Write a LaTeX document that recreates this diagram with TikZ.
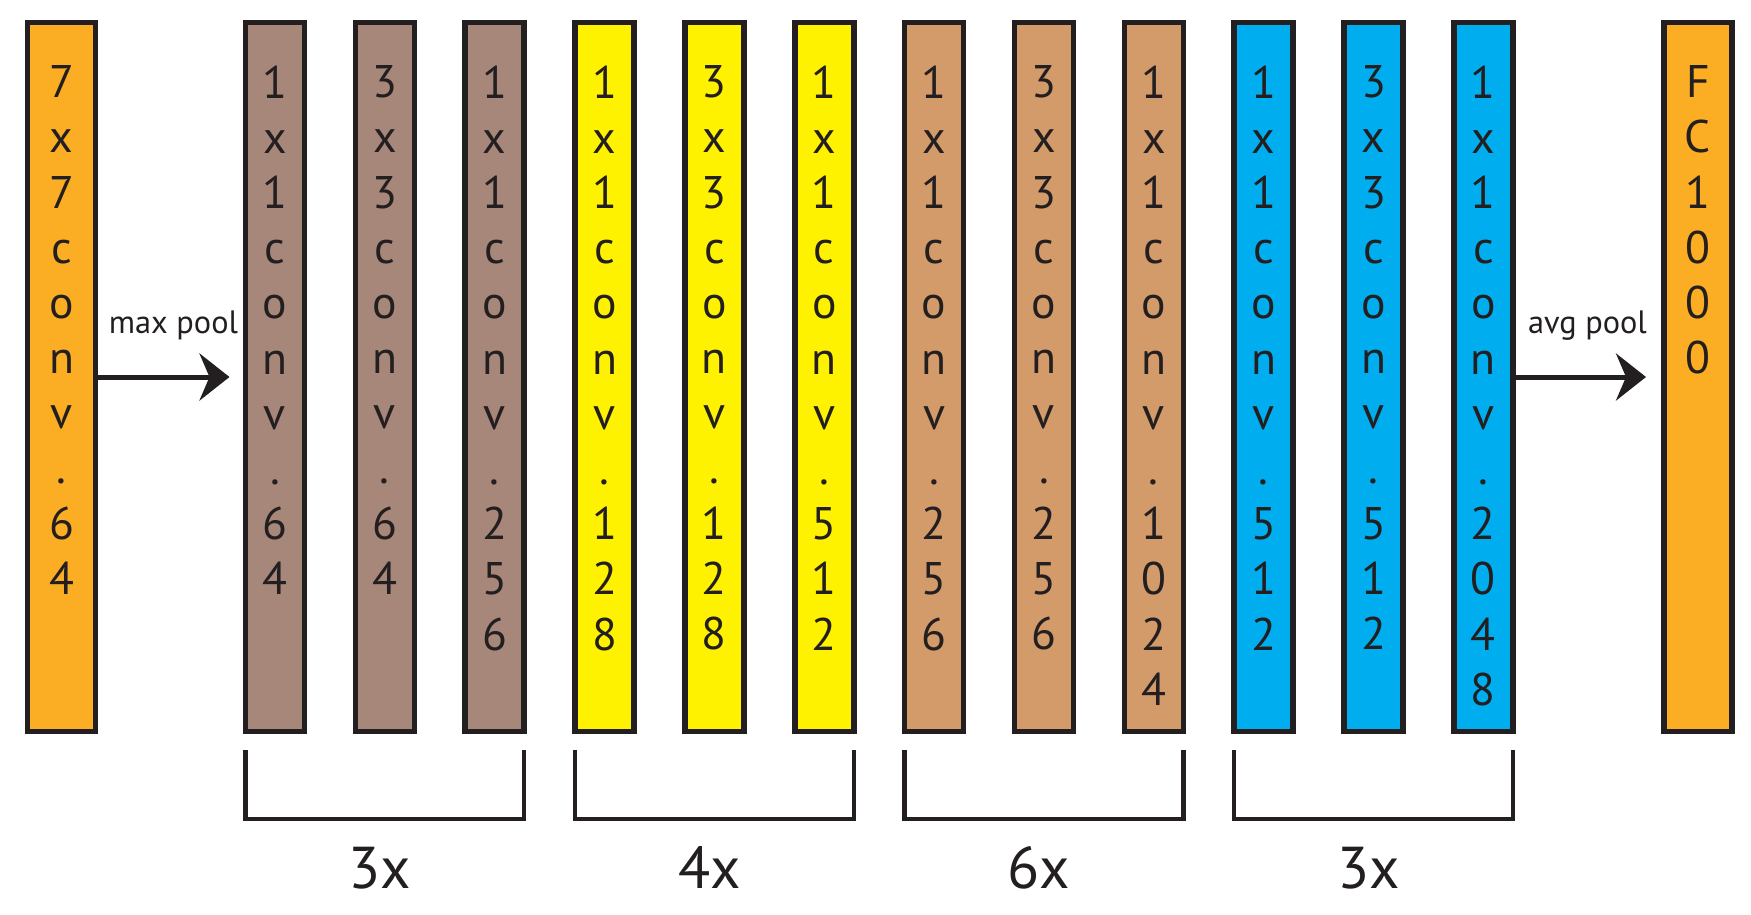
\documentclass[tikz,border=0pt]{standalone}
\usepackage{fontspec}
\setmainfont{PT Sans}
\usetikzlibrary{arrows.meta}
\definecolor{cOrange}{RGB}{251,173,36}
\definecolor{cBrown}{RGB}{166,135,122}
\definecolor{cYellow}{RGB}{255,242,0}
\definecolor{cTan}{RGB}{211,154,106}
\definecolor{cBlue}{RGB}{0,174,239}
\definecolor{cInk}{RGB}{35,31,32}
\tikzset{
  bar/.style={draw=cInk, line width=0.55mm, minimum width=5.9mm, minimum height=70.9mm, inner sep=0pt, outer sep=0pt},
  widebar/.style={bar, minimum width=6.8mm},
  stack/.style={anchor=north, inner sep=0pt, align=center, text=cInk, font=\fontsize{13}{15.7}\selectfont},
  conn/.style={draw=cInk, line width=0.5mm, -{Stealth[length=3mm,width=4.7mm,inset=1mm]}},
  poollbl/.style={font=\fontsize{9.2}{11}\selectfont, text=cInk, anchor=base, inner sep=0pt},
  brack/.style={draw=cInk, line width=0.45mm},
  replbl/.style={font=\fontsize{16.8}{20}\selectfont, text=cInk, anchor=base, inner sep=0pt},
}
\newcommand\convbar[4]{%
  \node[bar, fill=#3] (#1) at (#2,377) {};
  \node[stack] (#1t) at (#2,65) {#4};}
\begin{document}
\begin{tikzpicture}[x=0.1mm,y=-0.1mm]
\useasboundingbox[fill=white] (0,0) rectangle (1751,914);
% first and last layers
\node[widebar, fill=cOrange] (c1) at (61.5,377) {};
\node[stack] (c1t) at (61.5,65) {7\\x\\7\\c\\o\\n\\v\\.\\6\\4};
\node[widebar, fill=cOrange] (fc) at (1698,377) {};
\node[stack] (fct) at (1698,65) {F\\C\\1\\0\\0\\0};
% stage 1
\convbar{b1}{275}{cBrown}{1\\x\\1\\c\\o\\n\\v\\.\\6\\4}
\convbar{b2}{384.85}{cBrown}{3\\x\\3\\c\\o\\n\\v\\.\\6\\4}
\convbar{b3}{494.7}{cBrown}{1\\x\\1\\c\\o\\n\\v\\.\\2\\5\\6}
% stage 2
\convbar{y1}{604.55}{cYellow}{1\\x\\1\\c\\o\\n\\v\\.\\1\\2\\8}
\convbar{y2}{714.4}{cYellow}{3\\x\\3\\c\\o\\n\\v\\.\\1\\2\\8}
\convbar{y3}{824.25}{cYellow}{1\\x\\1\\c\\o\\n\\v\\.\\5\\1\\2}
% stage 3
\convbar{t1}{934.1}{cTan}{1\\x\\1\\c\\o\\n\\v\\.\\2\\5\\6}
\convbar{t2}{1043.95}{cTan}{3\\x\\3\\c\\o\\n\\v\\.\\2\\5\\6}
\convbar{t3}{1153.8}{cTan}{1\\x\\1\\c\\o\\n\\v\\.\\1\\0\\2\\4}
% stage 4
\convbar{u1}{1263.65}{cBlue}{1\\x\\1\\c\\o\\n\\v\\.\\5\\1\\2}
\convbar{u2}{1373.5}{cBlue}{3\\x\\3\\c\\o\\n\\v\\.\\5\\1\\2}
\convbar{u3}{1483.35}{cBlue}{1\\x\\1\\c\\o\\n\\v\\.\\2\\0\\4\\8}
% arrows
\draw[conn, shorten >=1.6mm] (c1.east) -- node[poollbl, yshift=4.4mm, xshift=0.3mm] (mpl) {max pool} (b1.west);
\draw[conn, shorten >=1.8mm] (u3.east) -- node[poollbl, yshift=4.4mm, xshift=-0.1mm] (apl) {avg pool} (fc.west);
% brackets
\foreach \a/\m/\b/\n/\lbl in {b1/b2/b3/r1/3x, y1/y2/y3/r2/4x, t1/t2/t3/r3/6x, u1/u2/u3/r4/3x}{
  \draw[brack] ([yshift=-1.85mm]\a.south west) -- ([yshift=-8.75mm]\a.south west) -| ([yshift=-1.85mm]\b.south east);
  \node[replbl, xshift=-0.5mm, yshift=-15.65mm] (\n) at (\m.south) {\lbl};
}
\end{tikzpicture}
\end{document}
